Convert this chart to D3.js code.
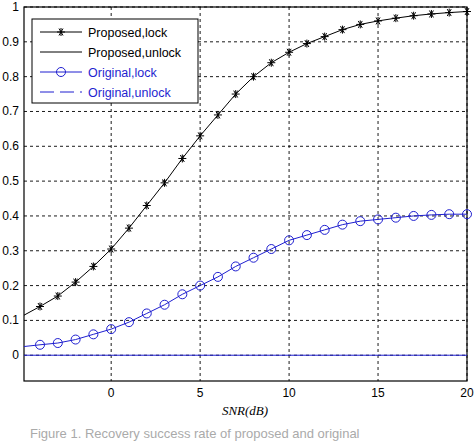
<!DOCTYPE html>
<html>
<head>
<meta charset="utf-8">
<script src="https://cdn.jsdelivr.net/npm/d3@7"></script>
<style>body{margin:0;background:#fff}</style>
</head>
<body>
<svg id="chart" width="474" height="445"></svg>
<script>
const snr = [-4.9, -4, -3, -2, -1, 0, 1, 2, 3, 4, 5, 6, 7, 8, 9, 10, 11, 12, 13, 14, 15, 16, 17, 18, 19, 20];
const proposed = [0.115, 0.14, 0.17, 0.21, 0.255, 0.305, 0.365, 0.43, 0.495, 0.565, 0.63, 0.69, 0.75, 0.80, 0.84, 0.87, 0.895, 0.915, 0.935, 0.95, 0.96, 0.968, 0.975, 0.98, 0.984, 0.987];
const original = [0.025, 0.03, 0.035, 0.045, 0.06, 0.075, 0.095, 0.12, 0.145, 0.175, 0.20, 0.225, 0.255, 0.28, 0.305, 0.33, 0.345, 0.36, 0.375, 0.385, 0.39, 0.395, 0.40, 0.403, 0.405, 0.405];
const xTicks = [0, 5, 10, 15, 20];
const yTicks = [0, 0.1, 0.2, 0.3, 0.4, 0.5, 0.6, 0.7, 0.8, 0.9, 1];
const legendItems = ["Proposed,lock", "Proposed,unlock", "Original,lock", "Original,unlock"];

const svg = d3.select("#chart");
const x = d3.scaleLinear().domain([-4.9, 20]).range([24, 467]);
const y = d3.scaleLinear().domain([-0.074, 1]).range([381, 7]);
const font = "Arial, 'Liberation Sans', sans-serif";

// grid
svg.selectAll("line.gx").data(xTicks).join("line")
  .attr("x1", d => x(d)).attr("x2", d => x(d)).attr("y1", y(1)).attr("y2", y(-0.074))
  .attr("stroke", "#000").attr("stroke-dasharray", "3,3").attr("stroke-width", 0.9);
svg.selectAll("line.gy").data(yTicks).join("line")
  .attr("y1", d => y(d)).attr("y2", d => y(d)).attr("x1", x(-4.9)).attr("x2", x(20))
  .attr("stroke", "#000").attr("stroke-dasharray", "3,3").attr("stroke-width", 0.9);

svg.append("rect").attr("x", x(-4.9)).attr("y", y(1)).attr("width", x(20) - x(-4.9))
  .attr("height", y(-0.074) - y(1)).attr("fill", "none").attr("stroke", "#000").attr("stroke-width", 1.2);

// tick labels
svg.selectAll("text.xt").data(xTicks).join("text")
  .attr("x", d => x(d)).attr("y", 397).attr("text-anchor", "middle")
  .attr("font-family", font).attr("font-size", 12).text(d => d);
svg.selectAll("text.yt").data(yTicks).join("text")
  .attr("x", 19).attr("y", d => y(d) + 4).attr("text-anchor", "end")
  .attr("font-family", font).attr("font-size", 12).text(d => d);
svg.append("text").attr("x", 245).attr("y", 415).attr("text-anchor", "middle")
  .attr("font-family", "'Liberation Serif', serif").attr("font-style", "italic").attr("font-size", 13)
  .text("SNR(dB)");
svg.append("text").attr("x", 30).attr("y", 438).attr("font-family", font).attr("font-size", 13)
  .attr("fill", "#aaa").text("Figure 1. Recovery success rate of proposed and original");

const line = d3.line().x((d, i) => x(snr[i])).y(d => y(d));
const zero = snr.map(() => 0);

svg.append("path").datum(zero).attr("d", line).attr("fill", "none").attr("stroke", "#1f1fd0").attr("stroke-width", 1);
svg.append("path").datum(original).attr("d", line).attr("fill", "none").attr("stroke", "#1f1fd0").attr("stroke-width", 1);
svg.append("path").datum(proposed).attr("d", line).attr("fill", "none").attr("stroke", "#000").attr("stroke-width", 1);

function drawStar(g, cx, cy) {
  [0, 60, 120].forEach(a => {
    g.append("line").attr("x1", cx - 4 * Math.cos(a * Math.PI / 180)).attr("y1", cy - 4 * Math.sin(a * Math.PI / 180))
      .attr("x2", cx + 4 * Math.cos(a * Math.PI / 180)).attr("y2", cy + 4 * Math.sin(a * Math.PI / 180))
      .attr("stroke", "#000").attr("stroke-width", 1);
  });
  g.append("line").attr("x1", cx).attr("x2", cx).attr("y1", cy - 4).attr("y2", cy + 4).attr("stroke", "#000");
}
const mk = svg.append("g");
snr.forEach((s, i) => { if (i > 0) drawStar(mk, x(s), y(proposed[i])); });
svg.selectAll("circle.o").data(original.slice(1)).join("circle")
  .attr("cx", (d, i) => x(snr[i + 1])).attr("cy", d => y(d)).attr("r", 4.5)
  .attr("fill", "none").attr("stroke", "#1f1fd0").attr("stroke-width", 1);

// legend
const lg = svg.append("g");
lg.append("rect").attr("x", 32).attr("y", 19).attr("width", 166).attr("height", 84)
  .attr("fill", "#fff").attr("stroke", "#000").attr("stroke-width", 1);
legendItems.forEach((t, i) => {
  const ly = 32 + i * 20;
  const col = i < 2 ? "#000" : "#1f1fd0";
  lg.append("line").attr("x1", 40).attr("x2", 82).attr("y1", ly).attr("y2", ly)
    .attr("stroke", col).attr("stroke-dasharray", i === 3 ? "14,6" : null);
  if (i === 0) drawStar(lg, 61, ly);
  if (i === 2) lg.append("circle").attr("cx", 61).attr("cy", ly).attr("r", 4.5).attr("fill", "none").attr("stroke", col);
  lg.append("text").attr("x", 88).attr("y", ly + 4.5).attr("font-family", font).attr("font-size", 12.5)
    .attr("fill", i < 2 ? "#000" : "#1f1fd0").text(t);
});
</script>
</body>
</html>
